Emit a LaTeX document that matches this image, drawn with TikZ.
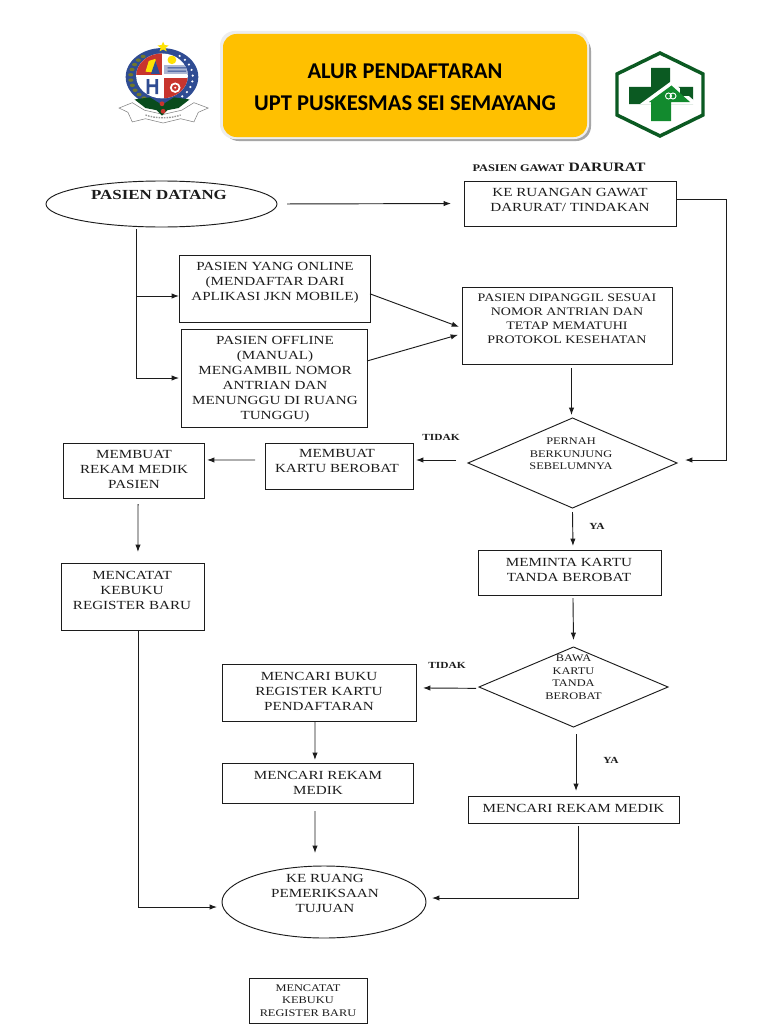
\documentclass[tikz,border=0pt]{standalone}
\usepackage{fontspec}
\setmainfont[FakeStretch=1.22]{Liberation Serif}
\newfontfamily\titlefont[Ligatures=TeX]{Carlito}
\usetikzlibrary{arrows.meta,shapes.geometric,calc}
\definecolor{ink}{HTML}{1C1C1C}
\definecolor{dgreen}{HTML}{0B5A22}
\definecolor{lgreen}{HTML}{128A2E}
\definecolor{titlefill}{HTML}{FFC000}
\definecolor{sblue}{HTML}{2F4C93}
\definecolor{sred}{HTML}{C8352E}
\def\pxu{0.75pt}
\tikzset{
  shapeline/.style={draw=ink,line width=0.7pt,inner sep=0pt,outer sep=0pt},
  boxn/.style={shapeline,rectangle},
  txt/.style={text=ink,align=center,inner sep=0pt,font=\fontsize{9.3}{11.25}\selectfont},
  smalltxt/.style={txt,font=\fontsize{7.6}{9.4}\selectfont},
  tagtxt/.style={text=ink,inner sep=0pt,font=\fontsize{7}{9}\selectfont\bfseries},
  conn/.style={draw=ink,line width=0.7pt},
  arr/.style={conn,-{Latex[length=5.5pt,width=4pt]}},
}
\newcommand{\bx}[6][boxn]{\node[#1,minimum width={(#5-#3)*\pxu},minimum height={(#6-#4)*\pxu}] (#2) at ({(#3+#5)/2},{(#4+#6)/2}) {};}
\newcommand{\lb}[5][txt]{\node[#1] (#2) at (#3,#4) {#5};}
\begin{document}
\begin{tikzpicture}[x=0.75pt,y=-0.75pt]
\useasboundingbox (0,0) rectangle (768,1024);
\fill[white] (0,0) rectangle (768,1024);

% title
\fill[gray!70,rounded corners=11pt] (224,36) rectangle (591,141);
\fill[white!93!black,rounded corners=11pt] (220,31) rectangle (589,139);
\node[rectangle,fill=titlefill,rounded corners=10pt,minimum width={364*\pxu},minimum height={103*\pxu},inner sep=0pt] (title) at (405,85.5) {};
\node[font=\titlefont\bfseries\fontsize{16.9}{20}\selectfont,text=black,inner sep=0pt] (t1) at (405,71) {ALUR PENDAFTARAN};
\node[font=\titlefont\bfseries\fontsize{16.9}{20}\selectfont,text=black,inner sep=0pt] (t2) at (405,103) {UPT PUSKESMAS SEI SEMAYANG};

% left emblem
\begin{scope}[shift={(162,77)},xscale=1.1,yscale=1.07,shift={(-161,-75)}]
  % ribbon
  \fill[white] (122,104) -- (134,99) -- (145,106) -- (162,110) -- (179,106) -- (190,99) -- (203,104) -- (194,108) -- (190,117) -- (178,114) -- (162,118) -- (146,114) -- (134,117) -- (130,108) -- cycle;
  \draw[gray,line width=0.4pt] (122,104) -- (134,99) -- (145,106) -- (162,110) -- (179,106) -- (190,99) -- (203,104) -- (194,108) -- (190,117) -- (178,114) -- (162,118) -- (146,114) -- (134,117) -- (130,108) -- cycle;
  \draw[gray!80,line width=1pt,dash pattern=on 1.2pt off 0.8pt] (146,110.5) .. controls (155,114) and (169,114) .. (178,110.5);
  % ring and shield
  \fill[sblue] (161,75) ellipse (33 and 27);
  \begin{scope}
    \clip (161,74) ellipse (23.5 and 21);
    \fill[white] (137,52) rectangle (186,96);
    \fill[sred] (137,52) rectangle (161,73.5);
    \fill[sred] (163,75.5) rectangle (186,96);
    \fill[sblue!40] (163,64) rectangle (186,72);
    \fill[sblue] (166,66) rectangle (183,67) (166,69) rectangle (183,70);
    \fill[yellow!85!orange] (170,59) circle (4);
    \fill[yellow!85!orange] (146,70) -- (149,60) -- (155,58) -- (157,71) -- cycle;
    \fill[sblue] (151,72) -- (155,60) -- (159,72) -- cycle;
    \fill[sblue] (147,77) rectangle (149.5,91) (155,77) rectangle (157.5,91) (149.5,82) rectangle (155,84.5);
  \end{scope}
  \draw[white,line width=1.3pt] (173,85) circle (4);
  \fill[white] (173,85) circle (1);
  \foreach \a in {-55,-42,...,60} \fill[white] ({161+28*cos(\a)},{75+24*sin(\a)}) circle (1.1);
  \foreach \a in {125,137,...,235} \fill[olive!60!dgreen] ({161+28.5*cos(\a)},{75+24*sin(\a)}) ellipse (2.3 and 1.6);
  \fill[yellow!85!orange] (162,42) -- (163.4,45.2) -- (167,45.5) -- (164.2,47.8) -- (165.2,51) -- (162,49.3) -- (158.8,51) -- (159.8,47.8) -- (157,45.5) -- (160.6,45.2) -- cycle;
  \fill[dgreen!85!black] (136,96) -- (150,94) -- (161,101) -- (172,94) -- (186,96) -- (176,104) -- (166,106) -- (161,111) -- (156,106) -- (146,104) -- cycle;
  \fill[sred] (161,100) circle (2.2) (162,107) circle (2.2);
\end{scope}

% right emblem
\draw[dgreen,line width=2.6pt,line join=miter] (660,53) -- (703,74) -- (703,115) -- (660,136) -- (617,115) -- (617,74) -- cycle;
\fill[dgreen] (651,68) rectangle (670,104) (629,87) rectangle (693,104);
\fill[white] (671.5,81) -- (698,104) -- (640,104) -- cycle;
\fill[dgreen] (680,87) rectangle (693,96);
\fill[lgreen] (671.5,85.5) -- (690,102) -- (671,102) -- (671,121) -- (651,121) -- (651,102) -- (649,102) -- cycle;
\draw[white,line width=0.7pt] (668.5,96) circle (3) (673,96) circle (3);

% shapes
\bx[shapeline,ellipse]{pd}{46}{181}{277}{227}
\bx{gd}{464}{181}{676}{226}
\bx{on}{179}{255}{370}{322}
\bx{off}{181}{329}{367}{427}
\bx{dp}{462}{287}{672}{364}
\bx[shapeline,diamond]{da}{468}{418}{677}{508}
\bx{kb}{265}{443}{413}{489}
\bx{mr}{63}{443}{204}{498}
\bx{mc}{61}{563}{204}{630}
\bx{mk}{478}{550}{661}{595}
\bx[shapeline,diamond]{db}{479}{647}{668}{727}
\bx{mb}{222}{664}{416}{721}
\bx{mm}{222}{763}{413}{803}
\bx{ml}{468}{796}{679}{823}
\bx[shapeline,ellipse]{ke}{222}{866}{426}{938}
\bx{bt}{249}{978}{367}{1023}

% texts
\node[text=ink,inner sep=0pt,font=\fontsize{10.4}{12}\selectfont\bfseries] (pdt) at (159,195) {PASIEN DATANG};
\node[text=ink,inner sep=0pt,font=\bfseries] (gdh) at (559,167) {{\fontsize{7.6}{9}\selectfont PASIEN GAWAT} {\fontsize{9.6}{9}\selectfont DARURAT}};
\lb{gdt}{570}{200}{KE RUANGAN GAWAT\\DARURAT/ TINDAKAN}
\lb{ont}{275}{282.5}{PASIEN YANG ONLINE\\(MENDAFTAR DARI\\APLIKASI JKN MOBILE)}
\lb{offt}{275}{379}{PASIEN OFFLINE\\(MANUAL)\\MENGAMBIL NOMOR\\ANTRIAN DAN\\MENUNGGU DI RUANG\\TUNGGU)}
\node[txt,font=\fontsize{8.6}{10.4}\selectfont] (dpt) at (567,319) {PASIEN DIPANGGIL SESUAI\\NOMOR ANTRIAN DAN\\TETAP MEMATUHI\\PROTOKOL KESEHATAN};
\lb[smalltxt]{dat}{571}{454}{PERNAH\\BERKUNJUNG\\SEBELUMNYA}
\lb{kbt}{337}{461}{MEMBUAT\\KARTU BEROBAT}
\lb{mrt}{134}{469}{MEMBUAT\\REKAM MEDIK\\PASIEN}
\lb{mct}{132}{590}{MENCATAT\\KEBUKU\\REGISTER BARU}
\lb{mkt}{569}{569.5}{MEMINTA KARTU\\TANDA BEROBAT}
\lb[smalltxt]{dbt}{573.5}{677}{BAWA\\KARTU\\TANDA\\BEROBAT}
\lb{mbt}{319}{691}{MENCARI BUKU\\REGISTER KARTU\\PENDAFTARAN}
\lb{mmt}{318}{783}{MENCARI REKAM\\MEDIK}
\lb{mlt}{573.5}{808.5}{MENCARI REKAM MEDIK}
\lb{ket}{325}{893.5}{KE RUANG\\PEMERIKSAAN\\TUJUAN}
\lb[smalltxt]{btt}{308}{1000.5}{MENCATAT\\KEBUKU\\REGISTER BARU}
\lb[tagtxt]{tg1}{441}{437}{TIDAK}
\lb[tagtxt]{tg2}{597}{526}{YA}
\lb[tagtxt]{tg3}{447}{665}{TIDAK}
\lb[tagtxt]{tg4}{611}{760}{YA}

% connectors
\coordinate (tr) at (136,229);
\coordinate (j1) at (136,296);
\coordinate (rb) at (726,460);
\draw[arr,shorten <=7.5pt,shorten >=9.75pt] (pd.east) -- (gd.west);
\draw[arr,shorten >=1.5pt] (tr) |- (off.west);
\draw[arr] (j1) -- (j1 -| on.west);
\draw[arr] ([yshift=-4pt]on.east) -- ([xshift=-2.25pt,yshift=-1pt]dp.west);
\draw[arr] ([yshift=12.75pt]off.east) -- ([xshift=-3pt,yshift=-7pt]dp.west);
\draw[arr] ([xshift=-0.75pt,yshift=-3pt]da.north |- dp.south) -- ([xshift=-0.75pt,yshift=2.25pt]da.north);
\draw[arr] ([yshift=3.4pt]gd.east) -| (rb) -- ([xshift=6pt,yshift=2.25pt]da.east);
\draw[arr] ([xshift=-9pt,yshift=2.25pt]da.west) -- ([xshift=2.25pt,yshift=4.5pt]kb.east);
\draw[arr] ([xshift=-7.5pt,yshift=4.5pt]kb.west) -- ([xshift=2.25pt,yshift=7.9pt]mr.east);
\draw[arr] ([xshift=3.4pt,yshift=-4.5pt]mr.south) -- ([xshift=4.1pt,yshift=8.25pt]mc.north);
\draw[arr] ([xshift=4.1pt]mc.south) |- ([xshift=-3.75pt,yshift=-3.75pt]ke.west);
\draw[arr] ([yshift=-3pt]da.south) -- ([xshift=2.6pt,yshift=3pt]mk.north);
\draw[arr] ([xshift=2.6pt,yshift=-2.25pt]mk.south) -- ([yshift=5.25pt]db.north);
\draw[arr] ([xshift=-2.25pt,yshift=-1pt]db.west) -- ([xshift=5.25pt,yshift=3.4pt]mb.east);
\draw[arr] ([xshift=-3pt,yshift=-0.75pt]mb.south) -- ([xshift=-1.9pt,yshift=2.25pt]mm.north);
\draw[arr] ([xshift=-1.9pt,yshift=-6pt]mm.south) -- ([xshift=-6.75pt,yshift=9.75pt]ke.north);
\draw[arr] ([xshift=1.9pt,yshift=-5.25pt]db.south) -- ([xshift=1.9pt,yshift=3.75pt]ml.north);
\draw[arr] ([xshift=4pt,yshift=-2.25pt]ml.south) |- ([xshift=4.5pt,yshift=3pt]ke.east);
\end{tikzpicture}
\end{document}
